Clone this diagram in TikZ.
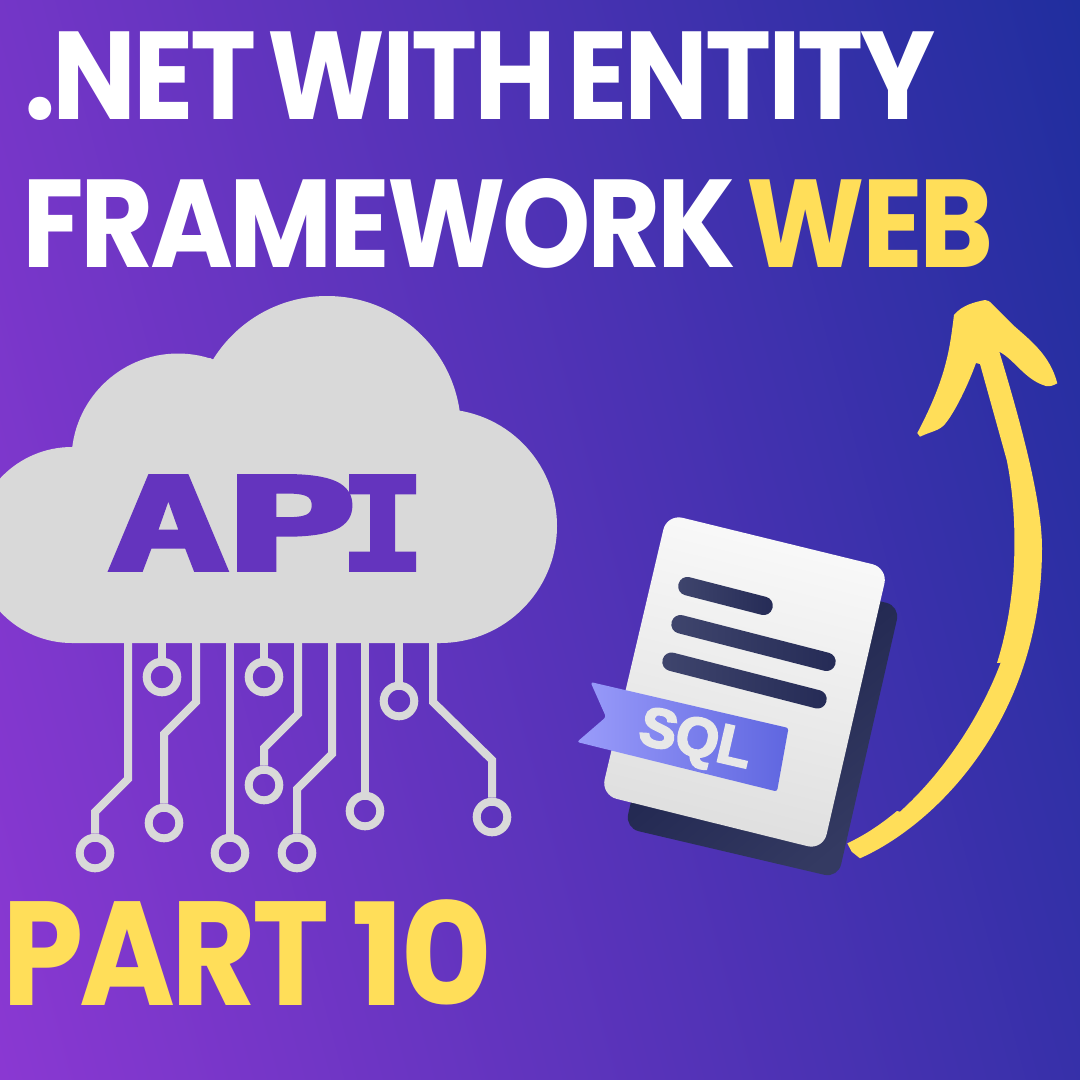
\documentclass[tikz,border=0pt]{standalone}
\usepackage{fontspec}
\usepackage{graphicx}
\newfontfamily\popfont{Poppins}[LetterSpace=-3,WordSpace=0.55]
\newfontfamily\apifont[FakeBold=3]{DejaVu Sans Mono}
\newfontfamily\sqlfont[FakeBold=4]{Liberation Sans}
\definecolor{ylw}{HTML}{FFDE59}
\definecolor{cloudgray}{HTML}{D9D9D9}
\definecolor{bgA}{HTML}{8A38D2}
\definecolor{bgB}{HTML}{202E9E}
\definecolor{apicol}{HTML}{6434BE}
\definecolor{barA}{HTML}{3F456D}
\definecolor{barB}{HTML}{252B56}
\definecolor{ribA}{HTML}{9A9CFA}
\definecolor{ribB}{HTML}{5F66E0}
\definecolor{backA}{HTML}{161C46}
\definecolor{backB}{HTML}{343A62}
\tikzset{
  cloudpart/.style={fill=cloudgray,draw=none},
  trace/.style={draw=cloudgray,line width=8pt,line join=miter},
  ring/.style={circle,draw=cloudgray,line width=8pt,minimum size=30.6pt,inner sep=0pt,fill=none},
  headline/.style={anchor=base west,inner sep=0pt,text=white,font=\popfont\bfseries\fontsize{125}{125}\selectfont},
  barshape/.style={rectangle,rounded corners=9pt,left color=barA,right color=barB,minimum height=18.5pt,inner sep=0pt,rotate=-14.4},
}
\begin{document}
\begin{tikzpicture}[x=1pt,y=-1pt]
\useasboundingbox (0,0) rectangle (1080,1080);
\clip (0,0) rectangle (1080,1080);
% background
\shade[left color=bgA,right color=bgB,shading angle=105] (-121,-121) rectangle (1201,1201);
% cloud
\fill[cloudpart] (440,526) circle (117);
\fill[cloudpart] (327,430) circle (134);
\fill[cloudpart] (178,460) circle (106.5);
\fill[cloudpart] (72,545) circle (98);
\fill[cloudpart] (72,643) -- (440,643) -- (460,412) -- (327,430) -- (210,358) -- (72,447) -- cycle;
\node[anchor=base west,inner sep=0pt,text=apicol,font=\apifont\bfseries\fontsize{129}{129}\selectfont] (api) at (108,570) {\scalebox{1.55}[1]{A}\kern-6pt\scalebox{1.75}[1]{P}\kern-19.4pt\scalebox{1.12}[1]{I}};
% circuit rings
\node[ring] (r1) at (95,853) {};
\node[ring] (r2) at (162,677) {};
\node[ring] (r3) at (164,823) {};
\node[ring] (r4) at (230,853) {};
\node[ring] (r5) at (264,677) {};
\node[ring] (r6) at (264,785) {};
\node[ring] (r7) at (297,853) {};
\node[ring] (r8) at (365,811) {};
\node[ring] (r9) at (399,701) {};
\node[ring] (r10) at (492,817) {};
\coordinate (s1) at (128,640);
\coordinate (s2) at (162,640);
\coordinate (s3) at (196,640);
\coordinate (s4) at (230,640);
\coordinate (s5) at (264,640);
\coordinate (s6) at (298,640);
\coordinate (s7) at (332,640);
\coordinate (s8) at (365,640);
\coordinate (s9) at (399,640);
\coordinate (s10) at (433,640);
\draw[trace] (s1) -- (128,779) -- (95,812) -- (r1.north);
\draw[trace] (s2) -- (r2.north);
\draw[trace] (s3) -- (196,702) -- (164,734) -- (r3.north);
\draw[trace] (s4) -- (r4.north);
\draw[trace] (s5) -- (r5.north);
\draw[trace] (s6) -- (298,714) -- (264,748) -- (r6.north);
\draw[trace] (s7) -- (332,754) -- (297,789) -- (r7.north);
\draw[trace] (s8) -- (r8.north);
\draw[trace] (s9) -- (r9.north);
\draw[trace] (s10) -- (433,702) -- (492,760) -- (r10.north);
% back sheet
\shade[rounded corners=14pt,top color=backA,middle color=backA!75!backB,bottom color=backB,shading angle=40]
  (687,556) -- (900,606) -- (838,878) -- (625,828) -- cycle;
% front sheet
\shade[rounded corners=16pt,top color=white!98!black,bottom color=white!87!black,shading angle=-14]
  (667,514) -- (888,568) -- (823,850) -- (601,795) -- cycle;
\node[barshape,minimum width=97pt] (bar1) at (725.5,596) {};
\node[barshape,minimum width=169pt] (bar2) at (753.5,643) {};
\node[barshape,minimum width=169pt] (bar3) at (744.5,680.5) {};
% ribbon
\shade[rounded corners=2.5pt,left color=ribA,middle color=ribB!88!ribA,right color=ribB]
  (590.5,682) -- (788.5,728) -- (777,791.5) -- (577,742) -- (606,717) -- cycle;
\node[inner sep=0pt,rotate=-13,text=white!91!black,font=\sqlfont\bfseries\fontsize{55}{55}\selectfont] (sql) at (695,742) {SQL};
% arrow
\fill[ylw] (847.3,843.3) -- (851.7,851.7) -- (860,858.3)
  .. controls (935,825) and (1042,720) .. (1042,548)
  .. controls (1042,500) and (1020,420) .. (999.3,351.7)
  .. controls (1015,360) and (1025,380) .. (1046,386)
  .. controls (1050,387) and (1054,385) .. (1057.3,383.3)
  .. controls (1050,355) and (1030,340) .. (1013,325)
  -- (993,305)
  .. controls (990,301) and (987,300) .. (985,300)
  .. controls (975,302) and (962,305) .. (954,315)
  .. controls (950,345) and (948,375) .. (917.3,433)
  -- (920,436.7)
  .. controls (932,431) and (939,431) .. (945,424)
  .. controls (955,412) and (968,385) .. (976,363)
  -- (980,364) -- (1006.7,460)
  .. controls (1017,510) and (1020,590) .. (997,663)
  -- (1000.7,662.7)
  .. controls (982,712) and (948,768) .. (900,811.7)
  -- (897,811)
  .. controls (880,825) and (865,835) .. (847.3,843.3)
  -- cycle;
% headlines
\node[headline] (t1) at (24,119) {\scalebox{.895}[1]{.NET WITH ENTITY}};
\node[headline] (t2a) at (22,267) {\scalebox{.9}[1]{FRAMEWORK \textcolor{ylw}{WEB}}};
\node[headline,text=ylw,font=\popfont\bfseries\fontsize{148}{148}\selectfont] (t3) at (2,1005) {\scalebox{.88}[1]{PART\kern10pt{} \scalebox{1.09}[.96]{10}}};
\end{tikzpicture}
\end{document}
